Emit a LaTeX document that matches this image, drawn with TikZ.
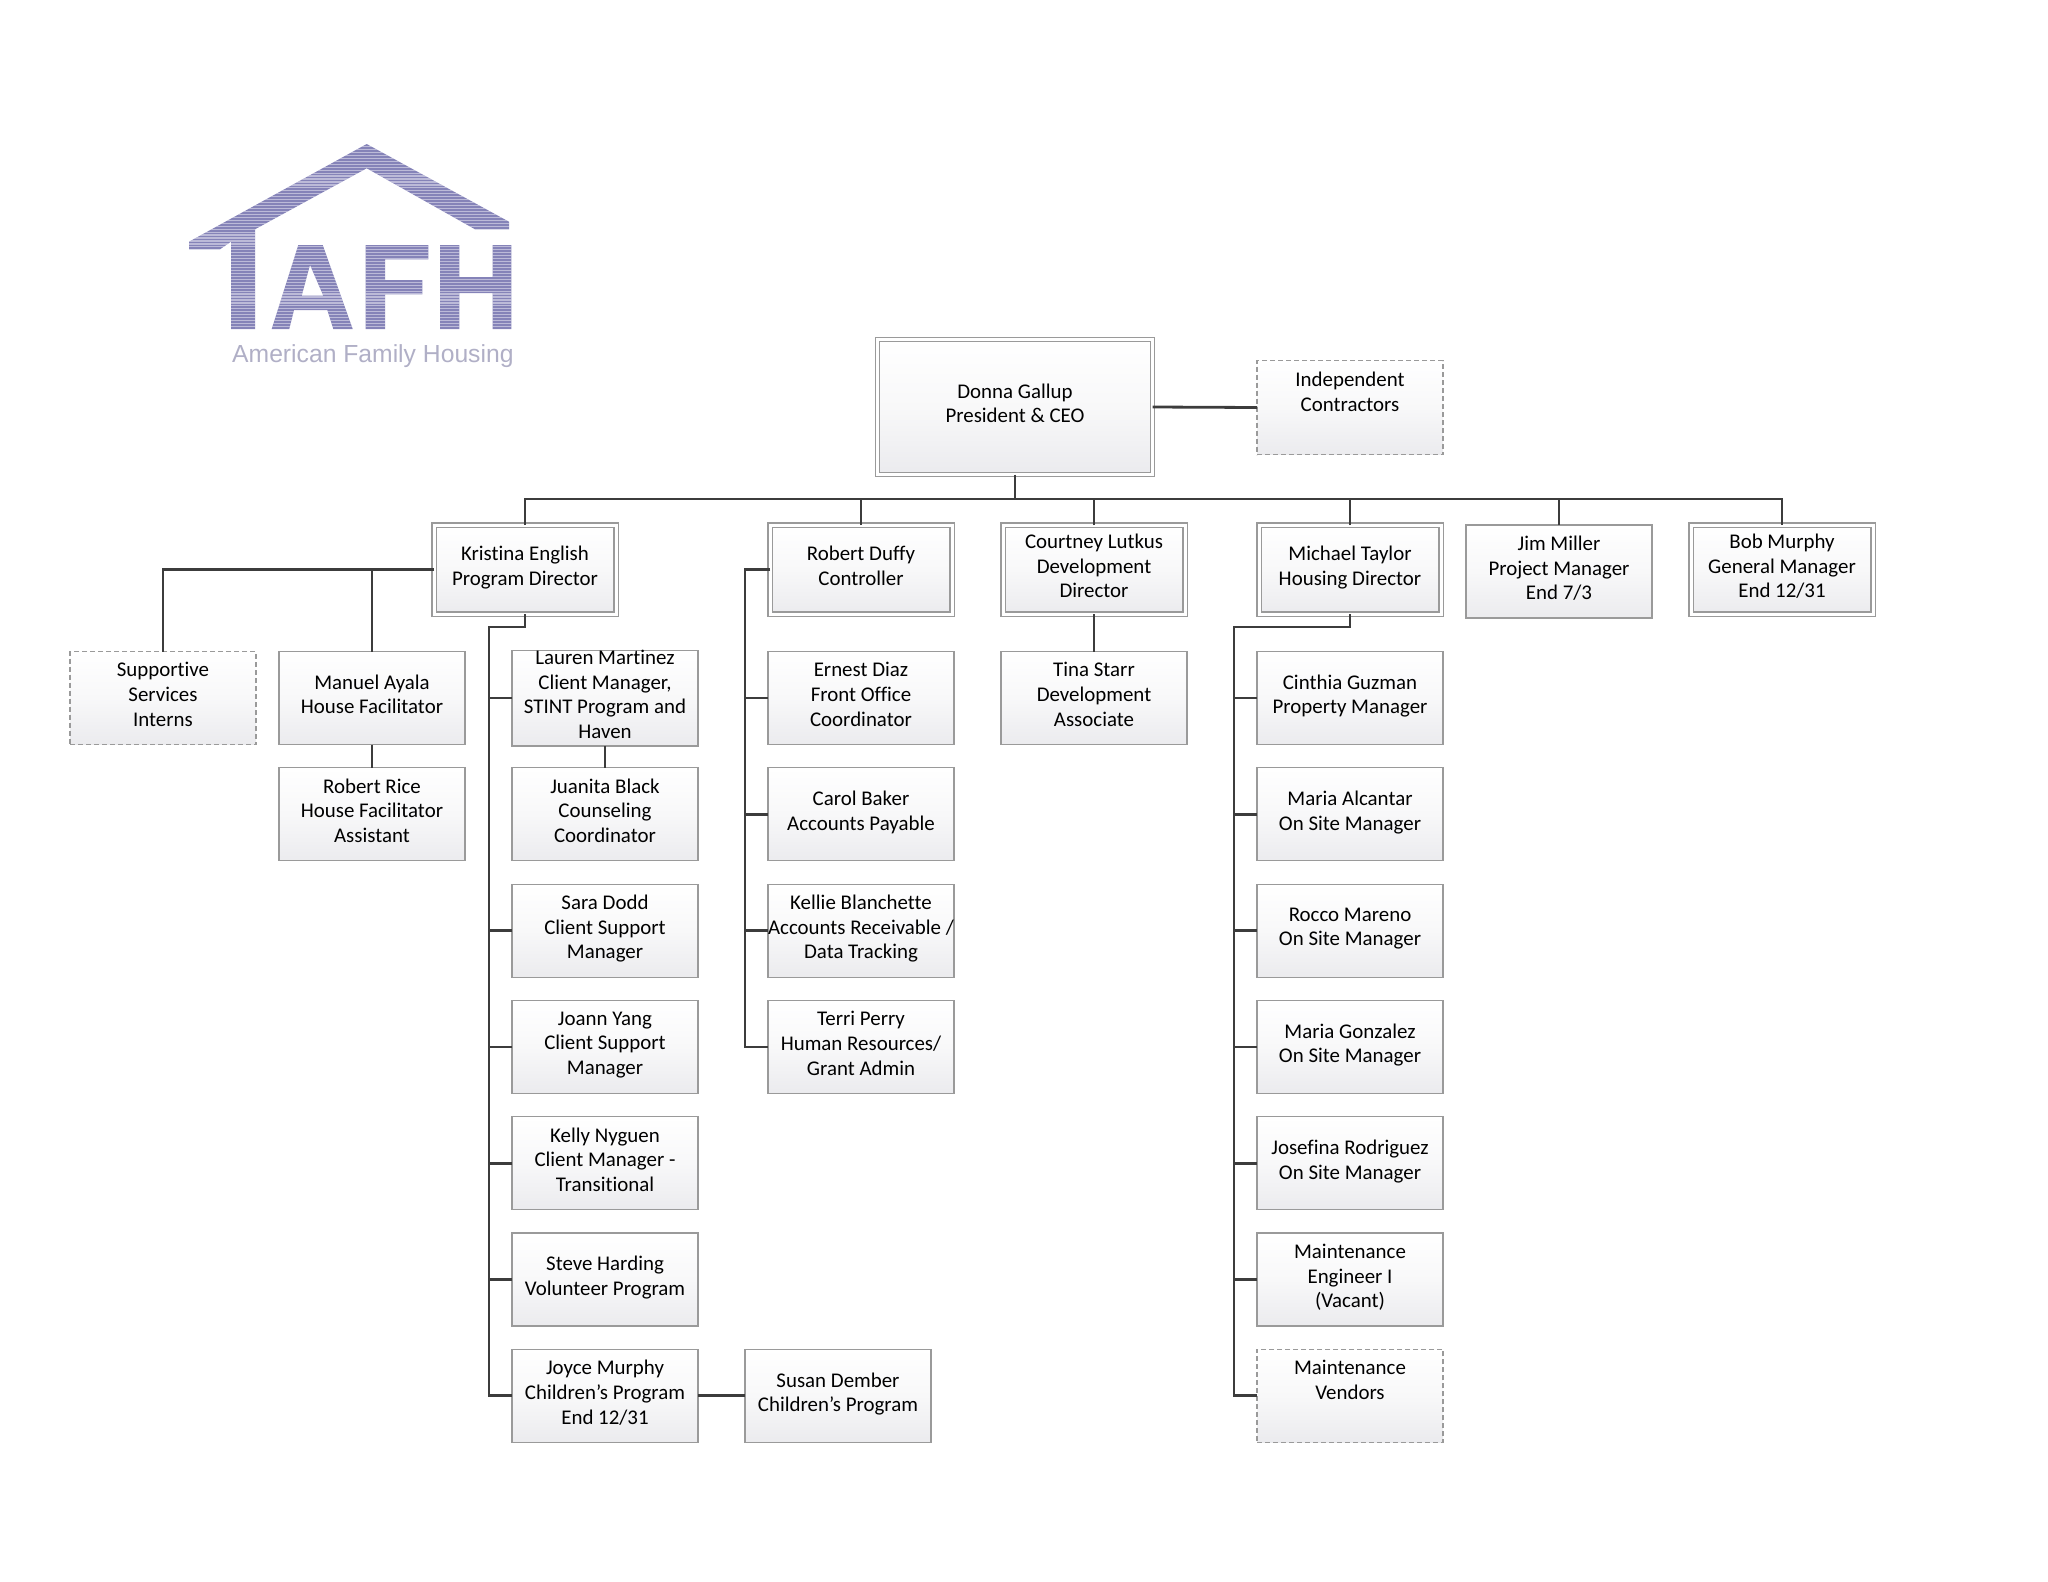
\documentclass[tikz,border=0pt]{standalone}
\usepackage{fontspec}
\setmainfont{Carlito}[Ligatures=NoCommon]
\newfontfamily\logofont{Liberation Sans}
\definecolor{linec}{HTML}{3C3C3C}
\definecolor{boxc}{HTML}{9A9A9A}
\definecolor{boxb}{HTML}{EBEBEE}
\definecolor{boxm}{HTML}{F8F8F9}
\definecolor{logoc}{HTML}{8583B8}
\definecolor{logot}{HTML}{B0AFC6}
\tikzset{
  orgbox/.style={rectangle,draw=boxc,line width=1.1pt,top color=white,bottom color=boxb,middle color=boxm,
    minimum width=186pt,minimum height=93pt,inner sep=0pt,outer sep=0pt,align=center,text=black,
    font=\fontsize{20.9}{24.7}\selectfont,execute at begin node=\strut,execute at end node=\strut},
  dblbox/.style={orgbox,double=white,double distance=3pt,minimum width=182pt,minimum height=89pt},
  dashbox/.style={orgbox,dash pattern=on 5pt off 3pt},
  conn/.style={draw=linec,line width=2.8pt,line join=miter}
}
\begin{document}
\begin{tikzpicture}[x=1pt,y=-1pt]
\useasboundingbox (0,0) rectangle (2048,1582);
% logo
\begin{scope}
\clip (366.7,144) -- (509,221.7) -- (509,229.3) -- (475,229.3) -- (366.7,168.3) -- (255,229.3) -- (255,329) -- (231,329) -- (231,241.7) -- (220,249.3) -- (189,249.3) -- (189,241.7) -- cycle
 (298.3,245) -- (322.7,245) -- (352.7,329) -- (333.3,329) -- (327.3,310) -- (294,310) -- (289.3,329) -- (271.7,329) -- cycle
 (310,265) -- (301.7,295.7) -- (323.3,295.7) -- cycle
 (365.7,245) -- (428.3,245) -- (428.3,259.3) -- (385,259.3) -- (385,280) -- (422.3,280) -- (422.3,294.3) -- (385,294.3) -- (385,329) -- (365.7,329) -- cycle
 (440,245) -- (459.3,245) -- (459.3,277) -- (492.7,277) -- (492.7,245) -- (511.3,245) -- (511.3,329) -- (492.7,329) -- (492.7,293) -- (459.3,293) -- (459.3,329) -- (440,329) -- cycle;
\fill[logoc] (180,140) rectangle (520,335);
\foreach \yy in {0,...,65}{\fill[white,opacity=.45] (180,{143+\yy*2.95}) rectangle (520,{144.2+\yy*2.95});}
\end{scope}
\node[inner sep=0pt,anchor=base west,text=logot,font=\logofont\fontsize{24.7}{28}\selectfont] (logotext) at (232,362) {American Family Housing};
% top
\node[dblbox,minimum width=275pt,minimum height=135pt] (donna) at (1015,407) {Donna Gallup\\President \& CEO};
\node[dashbox,minimum height=94pt] (indep) at (1350,407.5) {Independent\\Contractors\\\mbox{}};
\coordinate (bar) at (1015,499);
\node[dblbox] (kristina) at (525,569.5) {Kristina English\\Program Director};
\node[dblbox] (duffy) at (861,569.5) {Robert Duffy\\Controller};
\node[dblbox] (courtney) at (1094,569.5) {Courtney Lutkus\\Development\\Director};
\node[dblbox] (michael) at (1350,569.5) {Michael Taylor\\Housing Director};
\node[orgbox] (jim) at (1559,571.5) {Jim Miller\\Project Manager\\End 7/3};
\node[dblbox] (bob) at (1782,569.5) {Bob Murphy\\General Manager\\End 12/31};
% left
\node[dashbox] (support) at (163,698) {Supportive\\Services\\Interns};
\node[orgbox] (manuel) at (372,698) {Manuel Ayala\\House Facilitator};
\node[orgbox] (rice) at (372,814.3) {Robert Rice\\House Facilitator\\Assistant};
% program col
\node[orgbox] (lauren) at (605,698) {Lauren Martinez\\Client Manager,\\STINT Program and\\Haven};
\node[orgbox] (juanita) at (605,814.3) {Juanita Black\\Counseling\\Coordinator};
\node[orgbox] (sara) at (605,930.6) {Sara Dodd\\Client Support\\Manager};
\node[orgbox] (joann) at (605,1046.9) {Joann Yang\\Client Support\\Manager};
\node[orgbox] (kelly) at (605,1163.2) {Kelly Nyguen\\Client Manager -\\Transitional};
\node[orgbox] (steve) at (605,1279.5) {Steve Harding\\Volunteer Program};
\node[orgbox] (joyce) at (605,1395.8) {Joyce Murphy\\Children’s Program\\End 12/31};
\node[orgbox] (susan) at (838,1395.8) {Susan Dember\\Children’s Program};
% finance col
\node[orgbox] (ernest) at (861,698) {Ernest Diaz\\Front Office\\Coordinator};
\node[orgbox] (carol) at (861,814.3) {Carol Baker\\Accounts Payable};
\node[orgbox] (kellie) at (861,930.6) {Kellie Blanchette\\Accounts Receivable /\\Data Tracking};
\node[orgbox] (terri) at (861,1046.9) {Terri Perry\\Human Resources/\\Grant Admin};
\node[orgbox] (tina) at (1094,698) {Tina Starr\\Development\\Associate};
% housing col
\node[orgbox] (cinthia) at (1350,698) {Cinthia Guzman\\Property Manager};
\node[orgbox] (alcantar) at (1350,814.3) {Maria Alcantar\\On Site Manager};
\node[orgbox] (rocco) at (1350,930.6) {Rocco Mareno\\On Site Manager};
\node[orgbox] (gonzalez) at (1350,1046.9) {Maria Gonzalez\\On Site Manager};
\node[orgbox] (josefina) at (1350,1163.2) {Josefina Rodriguez\\On Site Manager};
\node[orgbox] (maint) at (1350,1279.5) {Maintenance\\Engineer I\\(Vacant)};
\node[dashbox] (vendors) at (1350,1395.8) {Maintenance\\Vendors\\\mbox{}};
% connectors
\coordinate (kspine) at (489,627);
\coordinate (dspine) at (745,569.5);
\coordinate (mspine) at (1234,627);
\coordinate (kleft) at (372,569.5);
\draw[conn] (donna.east) -- (indep.west);
\draw[conn] (donna.south) -- (bar);
\draw[conn] (kristina.north) -- (kristina.north |- bar) -- (bar) -- (bob.north |- bar) -- (bob.north);
\foreach \n in {duffy,courtney,michael,jim}{\draw[conn] (\n.north) -- (\n.north |- bar);}
\draw[conn] (kristina.west) -- (support.north |- kristina.west) -- (support.north);
\draw[conn] (kleft) -- (manuel.north);
\draw[conn] (manuel.south) -- (rice.north);
\draw[conn] (kristina.south) |- (kspine) -- (kspine |- joyce.west) -- (joyce.west);
\foreach \n in {lauren,sara,joann,kelly,steve}{\draw[conn] (\n.west) -- (kspine |- \n.west);}
\draw[conn] (lauren.south) -- (juanita.north);
\draw[conn] (joyce.east) -- (susan.west);
\draw[conn] (duffy.west) -- (dspine) -- (dspine |- terri.west) -- (terri.west);
\foreach \n in {ernest,carol,kellie}{\draw[conn] (\n.west) -- (dspine |- \n.west);}
\draw[conn] (courtney.south) -- (tina.north);
\draw[conn] (michael.south) |- (mspine) -- (mspine |- vendors.west) -- (vendors.west);
\foreach \n in {cinthia,alcantar,rocco,gonzalez,josefina,maint}{\draw[conn] (\n.west) -- (mspine |- \n.west);}
\end{tikzpicture}
\end{document}
